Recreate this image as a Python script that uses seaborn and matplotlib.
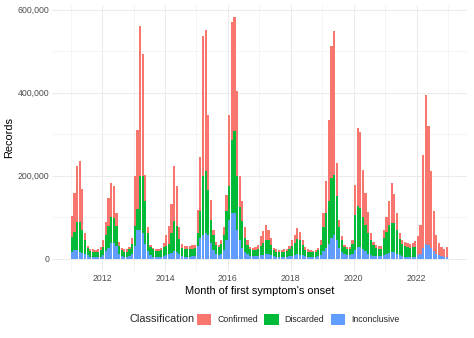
import numpy as np
import pandas as pd
import matplotlib
matplotlib.use("Agg")
import matplotlib.pyplot as plt
import seaborn as sns
from matplotlib.patches import Patch
from matplotlib.ticker import FuncFormatter, MultipleLocator

# Monthly records (thousands) by year, January to December
years = list(range(2011, 2023))

confirmed_k = [
    50, 94, 133, 147, 98, 16, 6, 6, 5, 5, 5, 6,            # 2011
    17, 32, 68, 82, 77, 32, 11, 5, 5, 5, 7, 14,            # 2012
    120, 191, 361, 292, 62, 16, 5, 4, 3, 4, 5, 9,          # 2013
    27, 43, 70, 132, 97, 29, 9, 9, 9, 9, 9, 9,             # 2014
    56, 132, 339, 340, 181, 48, 11, 7, 6, 9, 19, 38,       # 2015
    173, 283, 275, 205, 73, 50, 27, 13, 7, 6, 7, 9,        # 2016
    25, 28, 35, 26, 16, 6, 5, 5, 5, 5, 6, 8,               # 2017
    15, 20, 26, 19, 12, 7, 5, 4, 4, 5, 6, 13,              # 2018
    35, 76, 197, 317, 346, 81, 19, 9, 5, 5, 5, 10,         # 2019
    73, 189, 185, 113, 78, 51, 16, 8, 7, 7, 7, 20,         # 2020
    35, 60, 96, 69, 40, 14, 9, 10, 10, 10, 11, 14,         # 2021
    47, 70, 225, 360, 287, 187, 97, 46, 30, 22, 19, 22,    # 2022
]
discarded_k = [
    36, 44, 68, 72, 55, 34, 16, 14, 14, 13, 14, 16,
    20, 39, 52, 62, 60, 48, 18, 14, 13, 13, 16, 23,
    48, 52, 130, 138, 105, 43, 20, 17, 15, 15, 16, 22,
    22, 26, 48, 72, 62, 36, 19, 17, 17, 17, 18, 19,
    32, 64, 140, 148, 108, 56, 38, 22, 18, 24, 38, 70,
    80, 177, 196, 128, 79, 65, 35, 22, 15, 14, 15, 17,
    22, 29, 35, 34, 26, 14, 12, 11, 11, 12, 13, 16,
    23, 30, 38, 36, 25, 15, 12, 11, 11, 11, 14, 24,
    57, 85, 103, 145, 145, 105, 50, 30, 18, 16, 16, 25,
    85, 98, 93, 77, 62, 50, 36, 25, 19, 17, 17, 42,
    55, 66, 69, 70, 58, 40, 30, 25, 23, 21, 22, 23,
    0, 0, 0, 0, 0, 0, 0, 0, 0, 0, 0, 0,
]
inconclusive_k = [
    17, 21, 21, 17, 14, 11, 9, 4, 3, 3, 3, 5,
    8, 18, 26, 38, 38, 30, 12, 6, 4, 4, 6, 12,
    30, 68, 70, 62, 35, 18, 8, 5, 4, 4, 5, 6,
    8, 10, 14, 18, 16, 12, 7, 5, 5, 5, 6, 6,
    30, 50, 58, 62, 58, 38, 20, 12, 9, 12, 20, 45,
    94, 110, 111, 70, 46, 25, 15, 10, 7, 6, 6, 7,
    8, 9, 10, 10, 8, 6, 5, 5, 5, 5, 5, 6,
    7, 8, 10, 9, 8, 6, 5, 5, 4, 5, 6, 9,
    18, 25, 35, 50, 57, 45, 25, 15, 10, 8, 8, 10,
    20, 28, 28, 24, 18, 12, 9, 7, 6, 6, 6, 8,
    10, 14, 17, 16, 12, 8, 6, 5, 5, 5, 5, 5,
    8, 12, 25, 35, 33, 25, 18, 10, 8, 6, 5, 5,
]

classes = ["Confirmed", "Discarded", "Inconclusive"]
palette = {"Confirmed": "#F8766D", "Discarded": "#00BA38", "Inconclusive": "#619CFF"}

# Month positions as decimal years (middle of each month)
month_pos = [y + (m + 0.5) / 12 for y in years for m in range(12)]
series = {"Confirmed": confirmed_k, "Discarded": discarded_k, "Inconclusive": inconclusive_k}
df = pd.concat(
    [pd.DataFrame({"month": month_pos,
                   "records": np.array(vals) * 1000,
                   "Classification": name})
     for name, vals in series.items()],
    ignore_index=True,
)

sns.set_theme(style="whitegrid")
plt.rcParams["font.family"] = ["Liberation Sans", "DejaVu Sans"]

W, H = 474, 338
fig = plt.figure(figsize=(W / 72, H / 72), dpi=72)
left, right, top, bottom = 51.7, 467.0, 5.0, 270.7
ax = fig.add_axes([left / W, 1 - bottom / H, (right - left) / W, (bottom - top) / H])

edges = [float(e) for e in np.linspace(years[0], years[-1] + 1, len(month_pos) + 1)]
sns.histplot(
    data=df, x="month", weights="records", hue="Classification",
    hue_order=classes, multiple="stack", bins=edges, shrink=0.84,
    palette=palette, alpha=1, linewidth=0, edgecolor="none",
    legend=False, ax=ax,
)

# Axis ranges with 5% padding
totals = np.array(confirmed_k) + np.array(discarded_k) + np.array(inconclusive_k)
ymax = totals.max() * 1000
ax.set_ylim(-0.05 * ymax, 1.05 * ymax)
x0, x1 = years[0], years[-1] + 1
pad = 0.05 * (x1 - x0)
ax.set_xlim(x0 - pad, x1 + pad)

ax.xaxis.set_major_locator(MultipleLocator(2))
ax.xaxis.set_minor_locator(MultipleLocator(1))
ax.yaxis.set_major_locator(MultipleLocator(200000))
ax.yaxis.set_minor_locator(MultipleLocator(100000))
ax.xaxis.set_major_formatter(FuncFormatter(lambda v, p: f"{int(round(v))}"))
ax.yaxis.set_major_formatter(FuncFormatter(lambda v, p: f"{int(round(v)):,}"))

ax.grid(which="major", color="#EBEBEB", linewidth=1.07)
ax.grid(which="minor", color="#EBEBEB", linewidth=0.53)
ax.set_axisbelow(True)
for s in ax.spines.values():
    s.set_visible(False)
ax.set_facecolor("white")
ax.tick_params(which="both", length=0)
ax.tick_params(axis="x", pad=3.5, labelsize=8.8, labelcolor="#4D4D4D")
ax.tick_params(axis="y", pad=2.5, labelsize=8.8, labelcolor="#4D4D4D")

ax.set_xlabel("Month of first symptom's onset", fontsize=11, color="black", labelpad=2.5)
ax.set_ylabel("Records", fontsize=11, color="black", labelpad=3)

# Legend at the bottom, title to the left of the keys
fig.text(130 / W, 1 - 319.5 / H, "Classification", fontsize=11, va="center", ha="left")
handles = [Patch(facecolor=palette[c], edgecolor="none") for c in classes]
fig.legend(
    handles, classes, loc="center left", bbox_to_anchor=(197 / W, 1 - 319.5 / H),
    ncol=3, frameon=False, fontsize=8.8, handlelength=1.6, handleheight=1.67,
    handletextpad=0.7, columnspacing=0.75, borderpad=0, borderaxespad=0,
)

fig.savefig("out.png", dpi=72, facecolor="white")
